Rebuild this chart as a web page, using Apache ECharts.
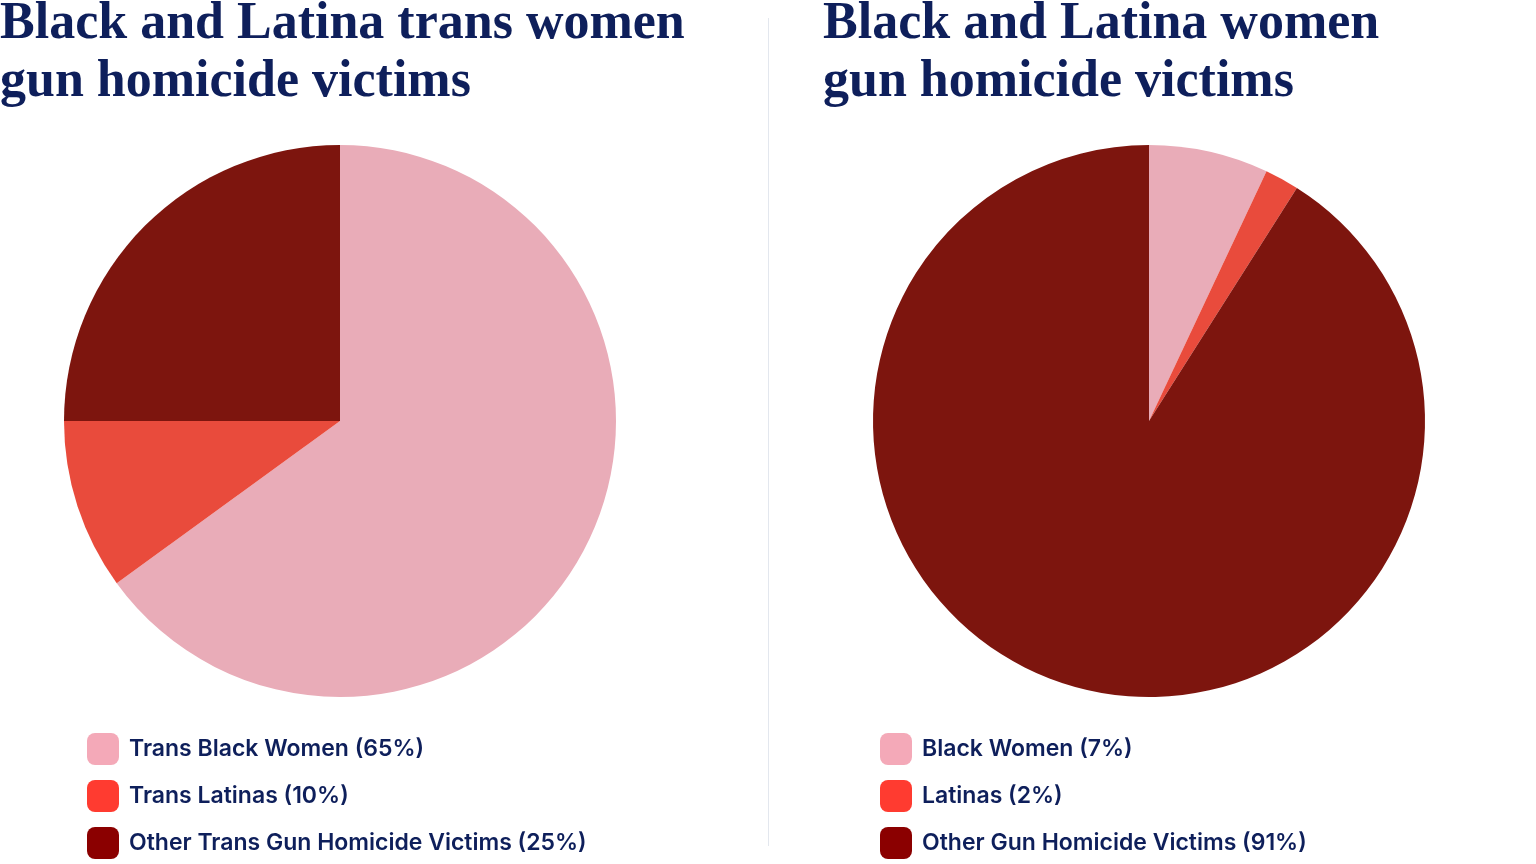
<!DOCTYPE html>
<html>
<head>
<meta charset="utf-8">
<title>Gun homicide victims</title>
<script src="https://cdn.jsdelivr.net/npm/echarts@6/dist/echarts.min.js"></script>
<style>
  html, body { margin: 0; padding: 0; background: #fff; }
  #main { width: 1536px; height: 864px; }
</style>
</head>
<body>
<div id="main"></div>
<script>
// data
var transNames = ['Trans Black Women', 'Trans Latinas', 'Other Trans Gun Homicide Victims'];
var transValues = [65, 10, 25];
var womenNames = ['Black Women', 'Latinas', 'Other Gun Homicide Victims'];
var womenValues = [7, 2, 91];

// pie slices and legend swatches use slightly different shades
var sliceColors = ['#E9ACB8', '#E94B3C', '#7D150E'];
var swatchColors = ['#F4A9B8', '#FF3B30', '#8B0000'];

var navy = '#0E1F5B';

function pieData(names, values) {
  var out = [];
  for (var i = 0; i < names.length; i++) {
    out.push({ name: names[i], value: values[i], itemStyle: { color: sliceColors[i] } });
  }
  return out;
}

function legendData(names) {
  return names.map(function (n, i) {
    return { name: n, icon: 'roundRect', itemStyle: { color: swatchColors[i] } };
  });
}

function pctLabel(names, values) {
  return function (name) {
    var idx = names.indexOf(name);
    return name + ' (' + values[idx] + '%)';
  };
}

var titleStyle = {
  fontFamily: '"Liberation Serif", "DejaVu Serif", serif',
  fontWeight: 'bold',
  fontSize: 52,
  lineHeight: 58,
  color: navy
};

var legendBase = {
  orient: 'vertical',
  itemWidth: 32,
  itemHeight: 32,
  itemGap: 15,
  selectedMode: false,
  textStyle: {
    fontFamily: 'Inter, "Noto Sans", sans-serif',
    fontWeight: 600,
    fontSize: 23,
    color: navy,
    padding: [2, 0, 0, 5]
  }
};

var chart = echarts.init(document.getElementById('main'));

chart.setOption({
  animation: false,
  backgroundColor: '#ffffff',
  title: [
    { text: 'Black and Latina trans women\ngun homicide victims', left: 0, top: -4, padding: 0, textStyle: titleStyle },
    { text: 'Black and Latina women\ngun homicide victims', left: 823, top: -4, padding: 0, textStyle: titleStyle }
  ],
  legend: [
    Object.assign({}, legendBase, {
      left: 87, top: 733, padding: 0,
      data: legendData(transNames),
      formatter: pctLabel(transNames, transValues)
    }),
    Object.assign({}, legendBase, {
      left: 880, top: 733, padding: 0,
      data: legendData(womenNames),
      formatter: pctLabel(womenNames, womenValues)
    })
  ],
  graphic: [
    {
      type: 'line',
      shape: { x1: 768.5, y1: 18, x2: 768.5, y2: 846 },
      style: { stroke: '#E3E7EE', lineWidth: 1 }
    }
  ],
  series: [
    {
      type: 'pie',
      center: [340, 421],
      radius: [0, 276],
      startAngle: 90,
      clockwise: true,
      label: { show: false },
      labelLine: { show: false },
      emphasis: { disabled: true },
      itemStyle: { borderWidth: 0 },
      data: pieData(transNames, transValues)
    },
    {
      type: 'pie',
      center: [1149, 421],
      radius: [0, 276],
      startAngle: 90,
      clockwise: true,
      label: { show: false },
      labelLine: { show: false },
      emphasis: { disabled: true },
      itemStyle: { borderWidth: 0 },
      data: pieData(womenNames, womenValues)
    }
  ]
});
</script>
</body>
</html>
